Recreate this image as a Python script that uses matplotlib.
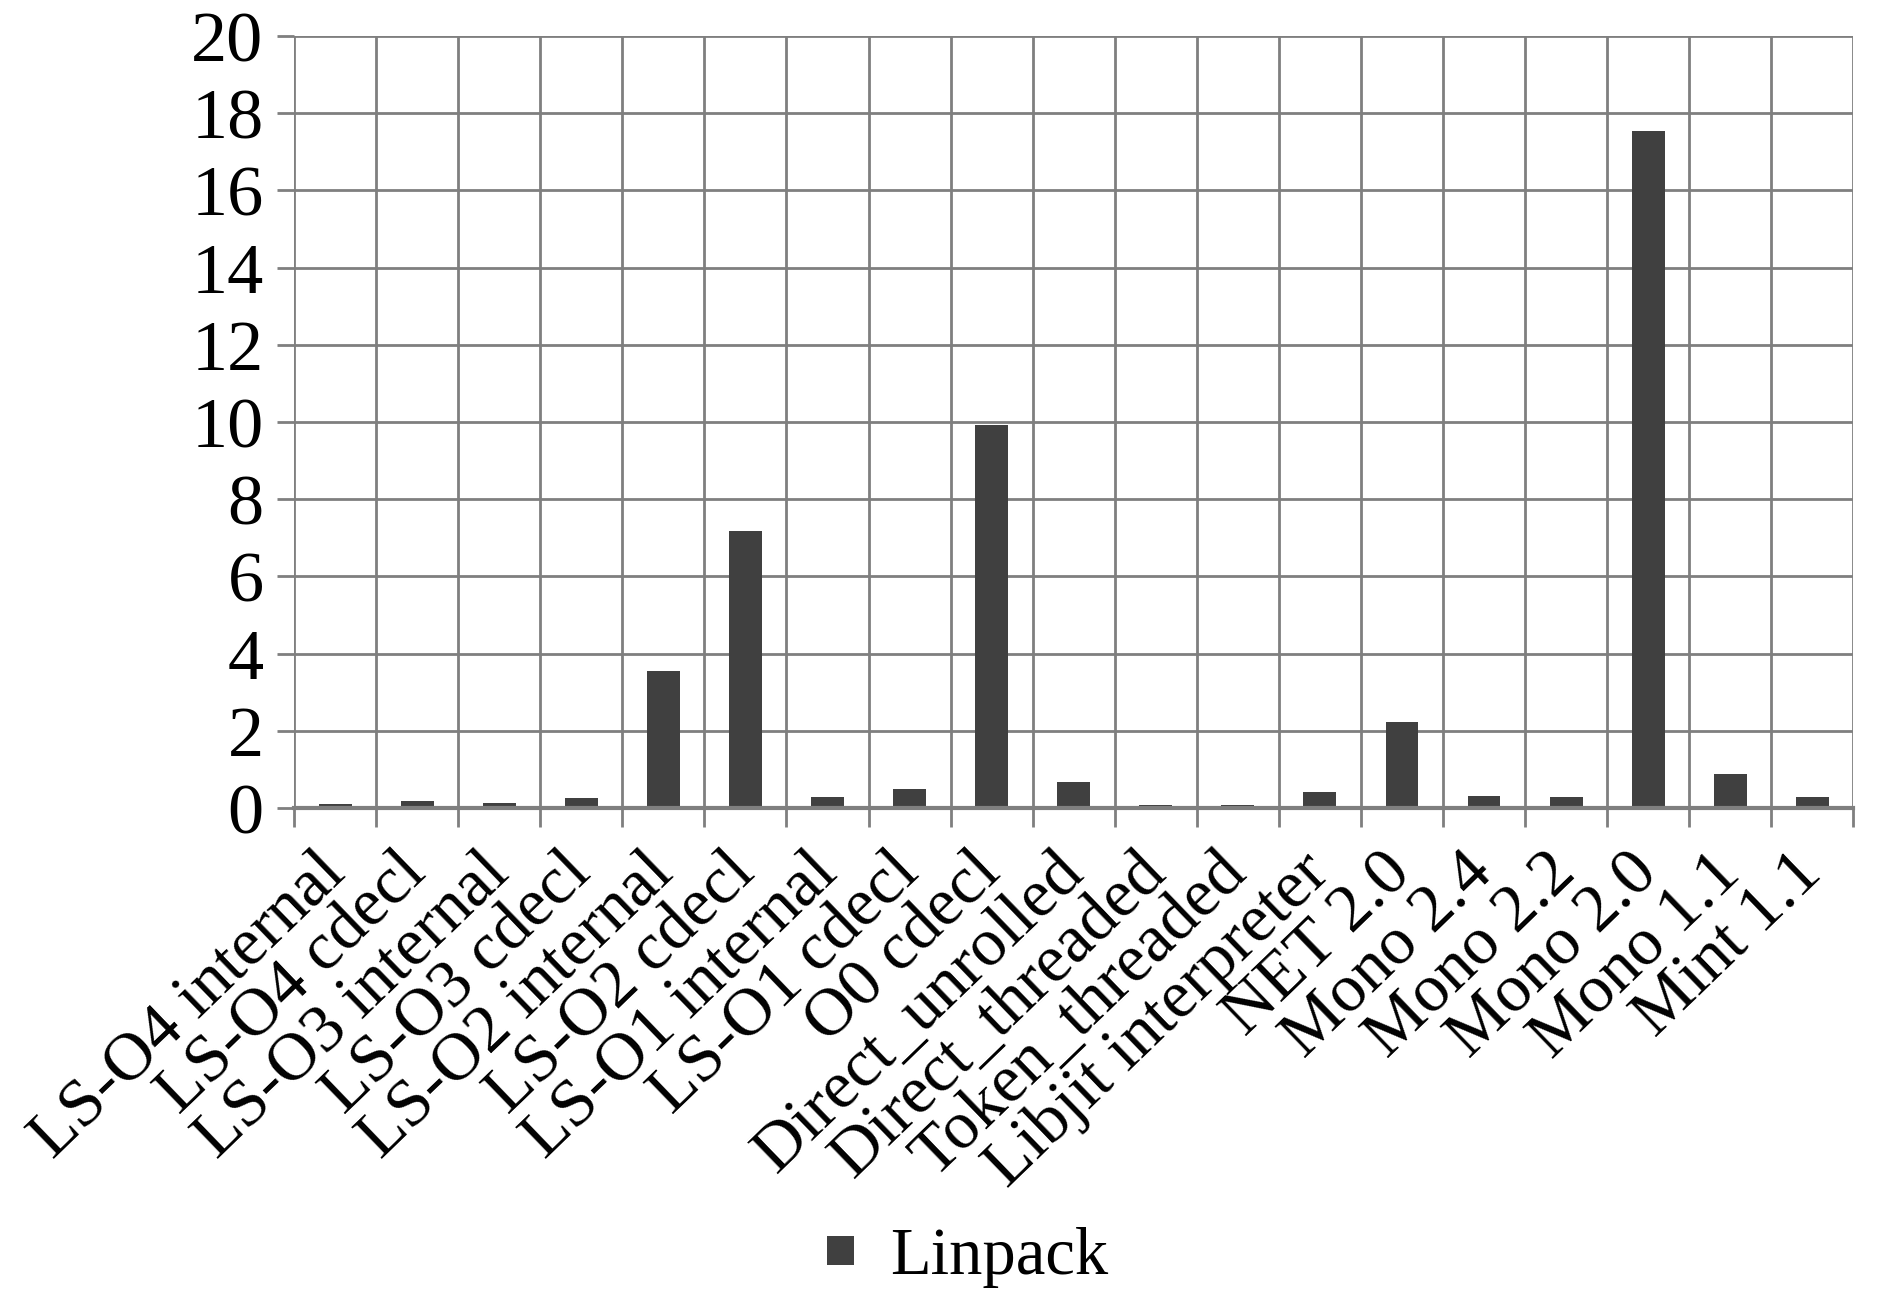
import numpy as np
import matplotlib.pyplot as plt
from matplotlib.ticker import FixedLocator
from matplotlib.transforms import ScaledTranslation

plt.rcParams['font.family'] = ['Liberation Serif', 'DejaVu Serif']

categories = ["LS-O4 internal", "LS-O4 cdecl", "LS-O3 internal", "LS-O3 cdecl",
              "LS-O2 internal", "LS-O2 cdecl", "LS-O1 internal", "LS-O1 cdecl",
              "O0 cdecl", "Direct_unrolled", "Direct_threaded", "Token_threaded",
              "Libjit interpreter", "NET 2.0", "Mono 2.4", "Mono 2.2",
              "Mono 2.0", "Mono 1.1", "Mint 1.1"]
linpack = [0.10, 0.18, 0.14, 0.25, 3.55, 7.18, 0.29, 0.49, 9.92, 0.67,
           0.07, 0.07, 0.41, 2.22, 0.32, 0.29, 17.54, 0.87, 0.29]
yticks = [0, 2, 4, 6, 8, 10, 12, 14, 16, 18, 20]

grid_col = "#7f7f7f"
bar_col = "#404040"

fig = plt.figure(figsize=(18.9, 12.94), dpi=100)
ax = fig.add_axes([0.1556, 1 - 808 / 1294, 0.825, (808 - 36) / 1294])

x = np.arange(len(categories))
ax.bar(x, linpack, width=0.4, color=bar_col, label="Linpack", zorder=3)

ax.set_xlim(-0.5, len(categories) - 0.5)
ax.set_ylim(0, 20)
ax.set_yticks(yticks)
ax.set_yticklabels([str(v) for v in yticks], fontsize=52)

ax.set_xticks(x)
ax.set_xticklabels(categories, rotation=44, ha="right", va="center",
                   rotation_mode="anchor", fontsize=49)
# shift labels a little to the right, like the original
shift = ScaledTranslation(0.19, 0, fig.dpi_scale_trans)
for lab in ax.get_xticklabels():
    lab.set_transform(lab.get_transform() + shift)
ax.xaxis.set_minor_locator(FixedLocator(np.arange(-0.5, len(categories), 1.0)))
ax.tick_params(axis="x", which="major", length=0, pad=40)
ax.tick_params(axis="x", which="minor", length=14, width=2, color=grid_col)
ax.tick_params(axis="y", length=12, width=2, color=grid_col, pad=10)

ax.grid(True, axis="y", which="major", color=grid_col, lw=2, zorder=0)
ax.grid(True, axis="x", which="minor", color=grid_col, lw=2, zorder=0)
for s in ["top", "right", "left"]:
    ax.spines[s].set_visible(False)
ax.spines["bottom"].set_color(grid_col)
ax.spines["bottom"].set_linewidth(3)
ax.spines["bottom"].set_zorder(4)
ax.set_axisbelow(True)

fig.legend(loc="center", bbox_to_anchor=(0.512, 1 - 1258 / 1294), frameon=False,
           fontsize=48, handlelength=0.4, handleheight=0.3, handletextpad=0.55)

fig.savefig("out.png", dpi=100, facecolor="white")
